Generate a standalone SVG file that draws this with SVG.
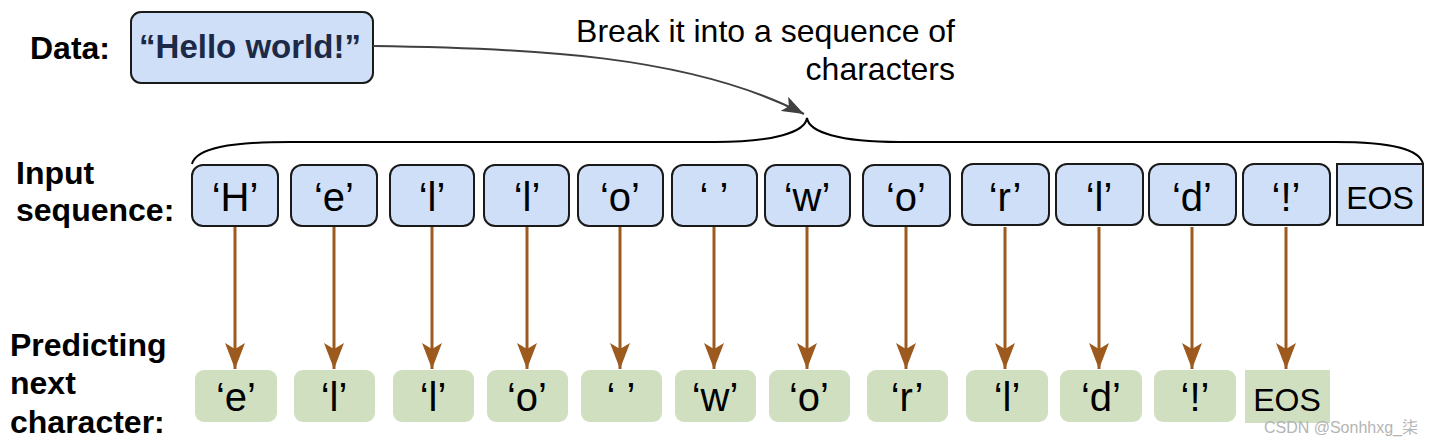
<svg xmlns="http://www.w3.org/2000/svg" width="1433" height="447" viewBox="0 0 1433 447">
<defs>
<style>
.lbl{font-family:"Liberation Sans",Arial,sans-serif;font-weight:bold;font-size:32px;fill:#000}
.ch{font-family:"Liberation Sans",Arial,sans-serif;font-size:40px;fill:#000;text-anchor:middle}
.eos{font-family:"Liberation Sans",Arial,sans-serif;font-size:32px;fill:#000;text-anchor:middle}
.in{fill:#cedff7;stroke:#1a1a1a;stroke-width:2}
.out{fill:#cfdfbf;stroke:none}
.br{stroke:#9c5a1e;stroke-width:3;fill:none;marker-end:url(#ab)}
.note{font-family:"Liberation Sans",Arial,sans-serif;font-size:32px;fill:#000;text-anchor:end}
</style>
<marker id="ab" viewBox="0 0 26 20" refX="26" refY="10" markerWidth="26" markerHeight="20" markerUnits="userSpaceOnUse" orient="auto">
<path d="M0,0 L26,10 L0,20 L6,10 Z" fill="#9c5a1e"/>
</marker>
<marker id="ag" viewBox="0 0 22 16" refX="22" refY="8" markerWidth="22" markerHeight="16" markerUnits="userSpaceOnUse" orient="auto">
<path d="M0,0 L22,8 L0,16 L5,8 Z" fill="#404040"/>
</marker>
</defs>
<rect width="1433" height="447" fill="#fff"/>

<g id="labels">
<text class="lbl" x="30" y="59">Data:</text>
<text class="lbl" x="16" y="184">Input</text>
<text class="lbl" x="16" y="221">sequence:</text>
<text class="lbl" x="10" y="356">Predicting</text>
<text class="lbl" x="10" y="394">next</text>
<text class="lbl" x="10" y="433">character:</text>
<text class="note" x="955" y="42">Break it into a sequence of</text>
<text class="note" x="955" y="80">characters</text>
</g>

<g id="data">
<rect x="131" y="12" width="242" height="71" rx="10" class="in"/>
<text x="250" y="58" text-anchor="middle" font-family="'Liberation Sans',Arial,sans-serif" font-weight="bold" font-size="33" fill="#1c2a48">“Hello world!”</text>
</g>

<g id="connectors">
<path d="M373,46 C530,48 690,55 804,114" stroke="#404040" stroke-width="2" fill="none" marker-end="url(#ag)"/>
<path d="M192,164 C196,148 230,142 290,142 L715,142 C775,142 805,132 807,118 C809,132 839,142 899,142 L1335,142 C1395,142 1420,150 1423,164" stroke="#000" stroke-width="2" fill="none"/>
<line class="br" x1="235" y1="227" x2="235" y2="369"/>
<line class="br" x1="334" y1="227" x2="334" y2="369"/>
<line class="br" x1="432" y1="227" x2="432" y2="369"/>
<line class="br" x1="527" y1="227" x2="527" y2="369"/>
<line class="br" x1="620" y1="227" x2="620" y2="369"/>
<line class="br" x1="714" y1="227" x2="714" y2="369"/>
<line class="br" x1="807" y1="227" x2="807" y2="369"/>
<line class="br" x1="906" y1="227" x2="906" y2="369"/>
<line class="br" x1="1005" y1="227" x2="1005" y2="369"/>
<line class="br" x1="1099" y1="227" x2="1099" y2="369"/>
<line class="br" x1="1192" y1="227" x2="1192" y2="369"/>
<line class="br" x1="1286" y1="227" x2="1286" y2="369"/>
</g>

<g id="in-H"><rect x="192" y="165" width="86" height="61" rx="11" class="in"/><text class="ch" x="235" y="211">‘H’</text></g>
<g id="in-e"><rect x="291" y="165" width="86" height="61" rx="11" class="in"/><text class="ch" x="334" y="211">‘e’</text></g>
<g id="in-l1"><rect x="390" y="165" width="84" height="61" rx="11" class="in"/><text class="ch" x="432" y="211">‘l’</text></g>
<g id="in-l2"><rect x="484" y="165" width="85" height="61" rx="11" class="in"/><text class="ch" x="527" y="211">‘l’</text></g>
<g id="in-o1"><rect x="578" y="165" width="85" height="61" rx="11" class="in"/><text class="ch" x="620" y="211">‘o’</text></g>
<g id="in-sp"><rect x="672" y="165" width="85" height="61" rx="11" class="in"/><text class="ch" x="714" y="211">‘ ’</text></g>
<g id="in-w"><rect x="765" y="165" width="85" height="61" rx="11" class="in"/><text class="ch" x="807" y="211">‘w’</text></g>
<g id="in-o2"><rect x="863" y="165" width="87" height="61" rx="11" class="in"/><text class="ch" x="906" y="211">‘o’</text></g>
<g id="in-r"><rect x="962" y="164" width="87" height="61" rx="11" class="in"/><text class="ch" x="1005" y="211">‘r’</text></g>
<g id="in-l3"><rect x="1056" y="164" width="87" height="61" rx="11" class="in"/><text class="ch" x="1099" y="211">‘l’</text></g>
<g id="in-d"><rect x="1149" y="164" width="87" height="61" rx="11" class="in"/><text class="ch" x="1192" y="211">‘d’</text></g>
<g id="in-ex"><rect x="1243" y="164" width="87" height="61" rx="11" class="in"/><text class="ch" x="1286" y="211">‘!’</text></g>
<g id="in-eos"><rect x="1337" y="164" width="86" height="61" class="in"/><text class="eos" x="1380" y="209">EOS</text></g>

<g id="out-e"><rect x="195" y="370" width="82" height="52" rx="9" class="out"/><text class="ch" x="236" y="411">‘e’</text></g>
<g id="out-l1"><rect x="294" y="370" width="81" height="52" rx="9" class="out"/><text class="ch" x="334" y="411">‘l’</text></g>
<g id="out-l2"><rect x="393" y="370" width="81" height="52" rx="9" class="out"/><text class="ch" x="433" y="411">‘l’</text></g>
<g id="out-o1"><rect x="487" y="370" width="81" height="52" rx="9" class="out"/><text class="ch" x="527" y="411">‘o’</text></g>
<g id="out-sp"><rect x="581" y="370" width="81" height="52" rx="9" class="out"/><text class="ch" x="621" y="411">‘ ’</text></g>
<g id="out-w"><rect x="675" y="370" width="81" height="52" rx="9" class="out"/><text class="ch" x="715" y="411">‘w’</text></g>
<g id="out-o2"><rect x="769" y="370" width="81" height="52" rx="9" class="out"/><text class="ch" x="809" y="411">‘o’</text></g>
<g id="out-r"><rect x="867" y="370" width="81" height="52" rx="9" class="out"/><text class="ch" x="907" y="411">‘r’</text></g>
<g id="out-l3"><rect x="966" y="370" width="82" height="52" rx="9" class="out"/><text class="ch" x="1007" y="411">‘l’</text></g>
<g id="out-d"><rect x="1060" y="370" width="82" height="52" rx="9" class="out"/><text class="ch" x="1101" y="411">‘d’</text></g>
<g id="out-ex"><rect x="1154" y="370" width="82" height="52" rx="9" class="out"/><text class="ch" x="1195" y="411">‘!’</text></g>
<g id="out-eos"><rect x="1245" y="370" width="85" height="53" class="out"/><text class="eos" x="1287" y="411">EOS</text></g>

<text x="1418" y="433" text-anchor="end" font-family="'Liberation Sans','Noto Sans CJK SC',sans-serif" font-size="16" fill="#b4b4b4">CSDN @Sonhhxg_柒</text>
</svg>
